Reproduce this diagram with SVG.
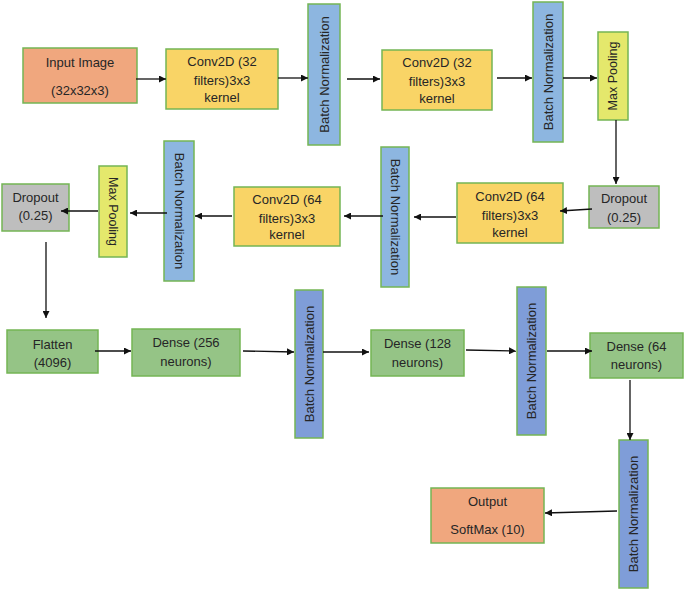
<svg xmlns="http://www.w3.org/2000/svg" width="685" height="590" viewBox="0 0 685 590">
<defs>
<marker id="ah" viewBox="0 0 10 10" refX="10" refY="5" markerWidth="7" markerHeight="7" markerUnits="userSpaceOnUse" orient="auto">
<path d="M0,0 L10,5 L0,10 Z" fill="#111"/>
</marker>
</defs>
<style>
rect{stroke:#74b554;stroke-width:1.5}
.or{fill:#f0a77e}
.cv{fill:#f9d466}
.bl{fill:#8db6e0}
.bd{fill:#7f9dd8}
.mp{fill:#e4e86c}
.gy{fill:#bebebe}
.gn{fill:#95c486}
text{font-family:"Liberation Sans",Arial,sans-serif;font-size:13px;fill:#262626;text-anchor:middle;dominant-baseline:central}
.sm{font-size:12.5px}
#connectors line{stroke:#111;stroke-width:1.3;marker-end:url(#ah)}
</style>
<rect width="685" height="590" fill="#fff" style="stroke:none"/>
<g id="input"><rect class="or" x="23" y="48" width="114" height="55"/><text x="80" y="62">Input Image</text><text x="80" y="90">(32x32x3)</text></g>
<g id="conv1"><rect class="cv" x="166" y="49" width="112" height="60"/><text x="222" y="61">Conv2D (32</text><text x="222" y="80">filters)3x3</text><text x="222" y="97">kernel</text></g>
<g id="bn1"><rect class="bl" x="308" y="4" width="32" height="141"/><text transform="translate(324,74.5) rotate(-90)">Batch Normalization</text></g>
<g id="conv2"><rect class="cv" x="382" y="50" width="110" height="60"/><text x="437" y="62">Conv2D (32</text><text x="437" y="81">filters)3x3</text><text x="437" y="98">kernel</text></g>
<g id="bn2"><rect class="bl" x="533" y="2" width="30" height="140"/><text transform="translate(548,72) rotate(-90)">Batch Normalization</text></g>
<g id="maxpool1"><rect class="mp" x="598" y="32" width="30" height="88"/><text class="sm" transform="translate(613,76) rotate(-90)">Max Pooling</text></g>
<g id="dropout1"><rect class="gy" x="589" y="186" width="70" height="42"/><text x="624" y="198">Dropout</text><text x="624" y="217">(0.25)</text></g>
<g id="conv3"><rect class="cv" x="457" y="183" width="106" height="60"/><text x="510" y="196">Conv2D (64</text><text x="510" y="215">filters)3x3</text><text x="510" y="232">kernel</text></g>
<g id="bn3"><rect class="bl" x="381" y="147" width="28" height="140"/><text transform="translate(395,217) rotate(90)">Batch Normalization</text></g>
<g id="conv4"><rect class="cv" x="234" y="187" width="106" height="59"/><text x="287" y="199">Conv2D (64</text><text x="287" y="218">filters)3x3</text><text x="287" y="234">kernel</text></g>
<g id="bn4"><rect class="bl" x="164" y="141" width="30" height="140"/><text transform="translate(179,211) rotate(90)">Batch Normalization</text></g>
<g id="maxpool2"><rect class="mp" x="99" y="166" width="28" height="91"/><text class="sm" transform="translate(113,211.5) rotate(90)">Max Pooling</text></g>
<g id="dropout2"><rect class="gy" x="2" y="184" width="67" height="47"/><text x="35.5" y="197">Dropout</text><text x="35.5" y="215">(0.25)</text></g>
<g id="flatten"><rect class="gn" x="7" y="330" width="91" height="43"/><text x="52.5" y="344">Flatten</text><text x="52.5" y="362">(4096)</text></g>
<g id="dense256"><rect class="gn" x="132" y="329" width="108" height="47"/><text x="186" y="342">Dense (256</text><text x="186" y="361">neurons)</text></g>
<g id="bn5"><rect class="bd" x="295" y="290" width="28" height="148"/><text transform="translate(309,364) rotate(-90)">Batch Normalization</text></g>
<g id="dense128"><rect class="gn" x="371" y="330" width="93" height="46"/><text x="417.5" y="343">Dense (128</text><text x="417.5" y="362">neurons)</text></g>
<g id="bn6"><rect class="bd" x="517" y="287" width="29" height="148"/><text transform="translate(531.5,361) rotate(-90)">Batch Normalization</text></g>
<g id="dense64"><rect class="gn" x="590" y="333" width="93" height="45"/><text x="636.5" y="346">Dense (64</text><text x="636.5" y="364">neurons)</text></g>
<g id="bn7"><rect class="bd" x="619" y="440" width="29" height="148"/><text transform="translate(633.5,514) rotate(-90)">Batch Normalization</text></g>
<g id="output"><rect class="or" x="431" y="488" width="113" height="55"/><text x="487.5" y="501">Output</text><text x="487.5" y="529">SoftMax (10)</text></g>
<g id="connectors">
<line x1="136" y1="79" x2="166" y2="79"/>
<line x1="278" y1="78" x2="308" y2="78"/>
<line x1="347" y1="79" x2="380" y2="79"/>
<line x1="497" y1="78" x2="532" y2="78"/>
<line x1="563" y1="78" x2="597" y2="78"/>
<line x1="616" y1="120" x2="616" y2="184"/>
<line x1="592" y1="209" x2="560" y2="211"/>
<line x1="456" y1="217" x2="414" y2="217"/>
<line x1="383" y1="216" x2="344" y2="216"/>
<line x1="232" y1="216" x2="195" y2="216"/>
<line x1="167" y1="213" x2="130" y2="213"/>
<line x1="98" y1="211" x2="61" y2="211"/>
<line x1="46" y1="242" x2="46" y2="318"/>
<line x1="95" y1="351" x2="131" y2="351"/>
<line x1="243" y1="351" x2="294" y2="352"/>
<line x1="323" y1="352" x2="369" y2="352"/>
<line x1="466" y1="350" x2="516" y2="351"/>
<line x1="547" y1="351" x2="592" y2="351"/>
<line x1="630" y1="380" x2="630" y2="440"/>
<line x1="617" y1="511" x2="545" y2="513"/>
</g>
</svg>
